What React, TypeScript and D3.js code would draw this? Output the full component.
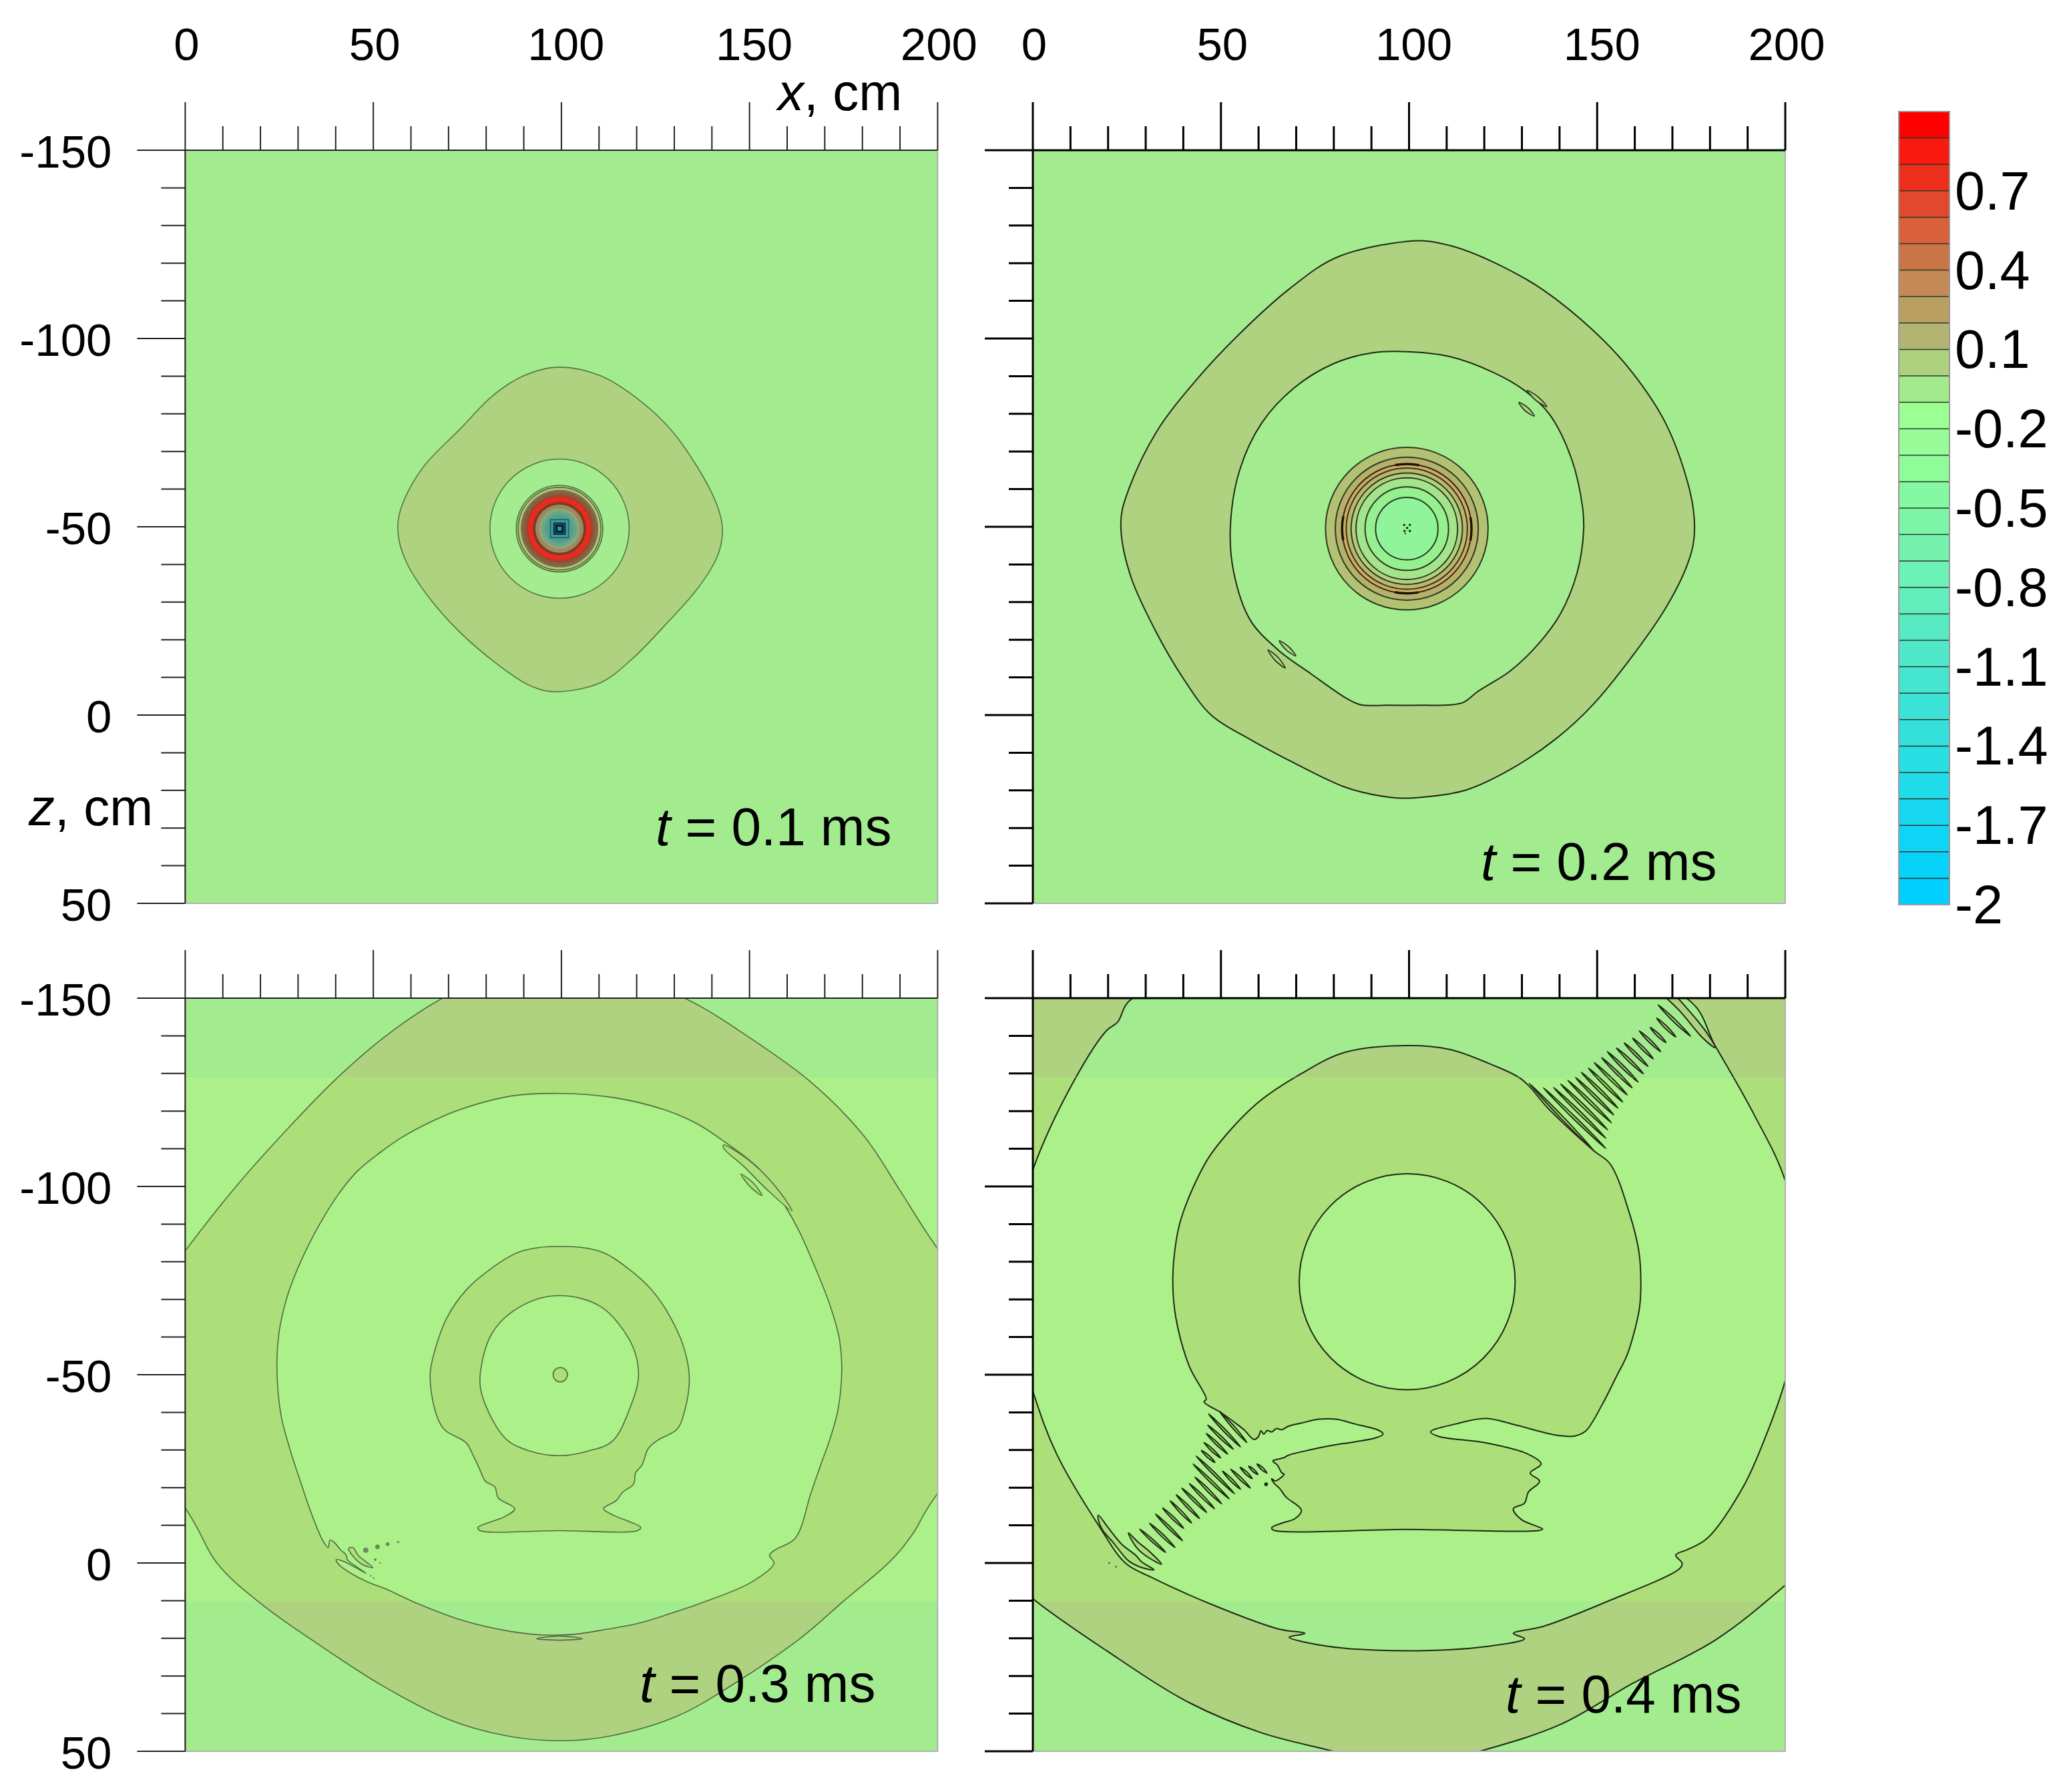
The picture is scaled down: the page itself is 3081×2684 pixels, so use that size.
import React from "react";
import * as d3 from "d3";

type Pt = [number, number];
type Seg = [number, number, number, number];
type Ring = [number, string, string];
type Dot = [number, number, number];

// ---------- axes ----------
const xMajor = [0, 50, 100, 150, 200];
const xMinor = [10, 20, 30, 40, 60, 70, 80, 90, 110, 120, 130, 140, 160, 170, 180, 190];
const zMajor = [-150, -100, -50, 0, 50];
const zMinor = [-140, -130, -120, -110, -90, -80, -70, -60, -40, -30, -20, -10, 10, 20, 30, 40];
const xLabelNudge = [2, 2, 7, 7, 2];

// ---------- colour bar ----------
const legendBands = [
  "#00cfff", "#07d2fa", "#0ed5f5", "#17d8f0", "#20dceb", "#28dfe4", "#33e0dc", "#3ce3d6", "#46e5d0", "#50e8ca",
  "#58ebc3", "#63eebd", "#6cf1b6", "#74f2ae", "#7cf5a8", "#85f8a2", "#8ffc9a", "#98fd98", "#9cff94", "#a3ea8e",
  "#acd27e", "#b3b472", "#b99f62", "#c48a55", "#ca7548", "#d96038", "#e2482b", "#ee2e1c", "#f81a0f", "#ff0000",
];
const legendLevels = [-2, -1.9, -1.8, -1.7, -1.6, -1.5, -1.4, -1.3, -1.2, -1.1, -1, -0.9, -0.8, -0.7, -0.6, -0.5, -0.4, -0.3, -0.2, -0.1, 0, 0.1, 0.2, 0.3, 0.4, 0.5, 0.6, 0.7, 0.8, 0.9, 1];
const legendTicks = [-2, -1.7, -1.4, -1.1, -0.8, -0.5, -0.2, 0.1, 0.4, 0.7];

// ---------- t = 0.1 ms ----------
const p1Outer: Pt[] = [
  [99.5, -92.4], [110.4, -90.1], [120.5, -83.8], [129, -75.9], [135.8, -66.4], [140.9, -56.9], [142.8, -49.4], [141.3, -41.8],
  [135.8, -33.1], [127.3, -23.6], [118.8, -14.9], [110.4, -8.6], [99.5, -6.2], [91.7, -7.8], [83.2, -13.3], [73, -22],
  [64.5, -31.6], [58.6, -41], [56.5, -49.4], [58.1, -56.9], [63.7, -66.4], [73, -75.9], [81.5, -84.6], [90, -90.1],
];
const p1Centre: Pt = [99.5, -49.5];
const p1Rings: Ring[] = [
  [18.5, "#a3ec8f", "#55754a"], [11.5, "#a9d983", "#4f6b40"], [11, "#b0c577", "#4f6b40"], [10.3, "#7c6c48", "none"],
  [9.6, "#8c5a3c", "none"], [8.9, "#a8402c", "none"], [8.3, "#ea2a1c", "none"], [7.1, "#7e3a28", "none"],
  [6.4, "#9b8a60", "none"], [5.4, "#8fa578", "none"], [4.7, "#6aa585", "none"], [3.8, "#4f9f92", "none"],
];
const p1Boxes: Ring[] = [
  [2.4, "#3f9a98", "#1f5f62"], [1.5, "#1b6f7a", "#0d2530"], [1, "#0d2530", "#0d2530"], [0.5, "#1aa0b5", "none"],
];

// ---------- t = 0.2 ms ----------
const p2Outer: Pt[] = [
  [99.5, -125.8], [110.8, -124.7], [122.6, -120.2], [135.8, -112.8], [149.1, -102], [159.4, -90.9], [168.2, -77.5], [174.1, -61.6],
  [175.9, -49.8], [174.1, -40.3], [168.2, -28.4], [159.4, -15.7], [149.1, -3], [138.8, 6.5], [127, 14.4], [115.2, 19.9],
  [103.5, 21.8], [94.6, 21.8], [82.9, 19.1], [69.6, 12.8], [57.8, 6.5], [47.5, 0.1], [40.2, -9.4], [32.8, -22],
  [26.2, -36.3], [23.4, -49.8], [25.5, -60], [32.8, -75.1], [43.1, -88.6], [54.9, -101.2], [68.1, -113.1], [81.4, -121.8],
];
const p2Inner: Pt[] = [
  [99.5, -96.5], [110.8, -95.2], [122.6, -90.9], [130.7, -86.2], [137.3, -79.9], [143.2, -68], [146.1, -55.3], [146.4, -49],
  [144.7, -37.9], [140.2, -26.8], [134.4, -18.9], [127, -11.8], [118.2, -6.2], [114.5, -3.4], [110.8, -2.7], [104, -2.6], [94, -2.6], [87.3, -2.7],
  [83.6, -4.3], [74, -10.9], [65.2, -17.3], [57.8, -25.2], [53.4, -37.9], [52.5, -49.8], [54.9, -64.8], [60.8, -77.5],
  [69.6, -87], [79.9, -93.3], [90.2, -96.2],
];
const p2Centre: Pt = [99.4, -49.5];
const p2Rings: Ring[] = [
  [21.6, "#b3c272", "#2c3a22"], [19, "#b5b06a", "#2c3a22"], [17.2, "#d4a861", "#2c2a18"], [16.1, "#bbb76d", "#2c3a22"],
  [14.8, "#b0d080", "#2c3a22"], [13.5, "#a3e58a", "#2c3a22"], [11.1, "#96f090", "#2c3a22"], [8.3, "#90f59a", "#2c3a22"],
];
const p2Lenses: Seg[] = [
  [131.4, -86.2, 136.6, -81.9], [129.2, -83, 133.3, -79.4], [65.5, -19.7, 69.9, -15.7], [62.5, -17.3, 67.1, -12.5],
];
const p2CentreDots: Dot[] = [[98.7, -50.5, 0.3], [100.2, -50.5, 0.3], [99.5, -49.7, 0.3], [98.8, -48.9, 0.3], [100.2, -48.9, 0.3], [99, -48.2, 0.2]];

// ---------- t = 0.3 ms ----------
const p3Outer: Pt[] = [
  [68.4, -150], [54.3, -140.7], [40.7, -129.1], [27.2, -115.3], [13.6, -100.1], [0, -82.9], [-24, -50], [0, -14.7], [8.5, 0.1],
  [20.4, 11], [35.7, 21.8], [52.6, 32.7], [69.6, 41.4], [84.9, 45.8], [99.7, 47.2], [113.8, 45.8], [130.7, 40.7],
  [146, 32], [163, 20.4], [174.9, 10.2], [186.8, 0.1], [193.5, -7.9], [200, -18.5], [224, -50], [200, -83.4],
  [190.2, -98.6], [180, -113.9], [165.5, -128.4], [146, -142.2], [132.8, -150], [116, -157], [100, -160], [84, -157],
];
const p3RingInner: Pt[] = [
  [99.7, -124.7], [113.8, -123.6], [127.3, -120.4], [135.8, -116.8], [142.6, -112.4], [152.8, -104.4], [158.9, -95.7], [163, -88.5],
  [168.1, -76.9], [171.5, -68.1], [173.9, -59.4], [174.5, -50.7], [173.5, -40.6], [171.5, -33.3], [168.9, -26], [166.4, -18.8],
  [162.1, -6.5], [157, -3.6], [155.3, -2.1], [156.5, 0.1], [150.3, 5.2], [137.5, 10.5], [129, 13.4],
  [120.5, 16], [112, 17.6], [103.6, 18.9], [95.1, 19.1], [86.6, 18.2], [73.9, 15.3], [61.1, 10.5], [53.1, 6.8], [48.4, 5], [44, 2.7], [41, 0.6], [40.1, -0.9],
  [41.6, -0.6], [44.9, 1], [48.1, 2.8], [45.4, 0.9], [43.1, -0.9], [42.8, -2.1], [41.3, -3.5], [39.5, -5.6], [38.5, -6.1],
  [38, -4.1], [36.6, -5.9], [33.6, -13], [30.6, -21.7], [28, -29.7], [25.5, -39.1], [24.4, -50.7], [24.9, -60.9], [27.2, -71], [30.6, -79.8],
  [35.7, -89.9], [40.7, -97.9], [45.8, -104.1], [51.8, -109], [57.7, -113.1], [65.4, -117.2], [73, -120.4], [86.6, -124],
];
const p3Keyhole: Pt[] = [
  [99.7, -84.1], [110.4, -82.7], [118, -78], [124, -72.5], [129, -65.2], [132.5, -57.3], [134, -49.3], [132.8, -40.6], [130.7, -35.5], [125.6, -32.6],
  [123.1, -30.4], [121.4, -26], [119.7, -23.9], [119.2, -21], [116.3, -18.8], [114.6, -16.6], [111.2, -14.4], [113.8, -12.7],
  [121.1, -9.4], [120.2, -8.6], [99.5, -8.6], [78.4, -8.6], [77.8, -9.4], [84.9, -12.3], [87.6, -14.4], [83.2, -17.3], [82.3, -20.2],
  [79.8, -21.7], [78.1, -25.3], [76.7, -28.2], [74.7, -31.9], [68.8, -35.5], [66.4, -40.6], [65.1, -50], [66.6, -57.3], [69.6, -65.2],
  [74.7, -72.5], [81.5, -78.3], [89.1, -82.7],
];
const p3Hole: Pt[] = [
  [99.5, -71], [110.4, -68.1], [118, -59.4], [120.5, -50], [118, -40.6], [113.8, -32.6], [107, -29.7], [99.5, -28.5],
  [91.7, -29.7], [84.9, -33.3], [79.8, -42], [78.4, -50], [81.5, -60.9], [89.1, -68.1],
];
const p3LensA: Pt[] = [[143.1, -111], [149.4, -107.3], [156.2, -100.8], [161.3, -93.5], [154.5, -99.3], [148.6, -105.2], [143.1, -110.2]];
const p3LensB: Pt[] = [[147.7, -103.3], [151.1, -100.8], [153.3, -97.6], [150.3, -99.8]];
const p3LensC: Pt[] = [[93.4, 20.1], [99.5, 19.4], [105.6, 20.1], [99.5, 20.5]];
const p3LensD: Pt[] = [[43.4, -3.8], [44.6, -4.1], [46, -2], [49.9, 1.2], [46.9, 0.3], [44.6, -1.8]];
const p3Dots: Dot[] = [[48, -3.4, 0.7], [51.1, -4.3, 0.6], [53.8, -5, 0.5], [56.6, -5.6, 0.3], [50.5, -0.9, 0.35], [51.8, 0, 0.22], [49.3, 3.4, 0.22], [50.1, 4, 0.22]];
const p3CentreDot: Dot = [99.7, -50, 1.9];

// ---------- t = 0.4 ms ----------
const p4Blob: Pt[] = [
  [0, 9.5], [19.6, 23.3], [41.6, 37.1], [60.8, 45.1], [79.9, 50], [99.5, 55], [118.9, 50], [140.2, 42.9], [159.4, 32],
  [181.5, 20.4], [200, 5.9], [215, -8], [215, -165], [-15, -165], [-15, -4],
];
const p4Field: Pt[] = [
  [26.5, -150], [22.5, -143.6], [19.6, -141.4], [10.7, -127.6], [0, -104.4], [-8, -74], [0, -45.6], [6.3, -29], [17.4, -10.1],
  [24.7, 0.1], [31.3, 3.7], [47.5, 11], [65.2, 17.5], [72.3, 18.7], [68.1, 19.7], [78.4, 22.1], [99.5, 23.3], [121.1, 22.1],
  [130.7, 20.1], [127.7, 18.7], [135.8, 16.8], [152, 10.5], [171.9, 1.5], [172.6, 0.1], [170.9, -2.1], [174.1, -3.6],
  [179.2, -6.5], [188.8, -20.2], [194.7, -33.4], [200, -48.5], [205, -74], [200, -101.5], [191.8, -118.9], [181.5, -137.1], [173.7, -150], [99.5, -165],
];
const p4Core: Pt[] = [
  [45.5, -42.8], [50.2, -39.8], [53.8, -37.2], [56.1, -35.4], [58.8, -32.8], [60, -33.6], [60.6, -35.1], [61.4, -34.2], [62.3, -35.2],
  [63.5, -34.8], [64.7, -35.7], [66.2, -35.4], [67.9, -36.3], [71.5, -37.2], [76.2, -38.2], [80.4, -38.2], [85.7, -36.9],
  [92.2, -35.1], [93.1, -34.2], [91, -33.2], [85.7, -32.2], [79.8, -31.3], [73.9, -30.1], [67.9, -28.6], [66.8, -28], [65.3, -27.6],
  [63.8, -27.1], [65, -26], [66.2, -23.9], [66.8, -23.6], [65.6, -22.4], [64.4, -21.8], [63.5, -22.4], [64.1, -21.2], [65.6, -19.8],
  [67.4, -17.4], [70.3, -15.3], [71.4, -13.9], [69.7, -11.8], [66.2, -10.6], [63.5, -9.4], [63.8, -8.8], [99.5, -8.9], [134.4, -8.6],
  [135.5, -9], [129.9, -11.5], [127.7, -14.4], [130.7, -15.9], [131.7, -18.8], [134.7, -21.7], [132.2, -23.9], [135.1, -26.3],
  [131.4, -29], [120.4, -31.9], [107.9, -33.6], [105.7, -34.8], [112.3, -36.9], [120.4, -38.4], [128.5, -36.6], [138.8, -34],
  [143.9, -33.7], [146.9, -35], [151.3, -42], [155, -49.3], [157.9, -55.1], [160.1, -62.3], [161.3, -68.1], [161.6, -75.4], [161.1, -82.7], [158.6, -92.8], [153.5, -105.9], [149.1, -109.5],
  [137.3, -120.4], [130, -128.4], [121.1, -132.7], [110.8, -136.4], [99.5, -137.4], [82.9, -135.6], [71.1, -129.8], [59.3, -121.8],
  [47.5, -108.8], [43.1, -100.8], [39.4, -91.4], [38.1, -85.6], [37.2, -75.4], [38, -65.2], [41.6, -52.2], [46.1, -43.5],
];
const p4Hole: Dot = [99.5, -74.7, 28.7];
const p4UpperStripes: Seg[] = [
  [131.9, -127.4, 149.3, -109.3], [135.7, -126.2, 152.3, -110.1], [138.4, -126.3, 152.3, -112.8], [140.3, -127.2, 152.8, -115],
  [142.2, -128.2, 153.8, -116.9], [144.2, -129, 154.4, -119], [145.8, -130.3, 155.5, -120.8], [147.7, -131.4, 156.8, -122.4],
  [149.2, -132.9, 158, -124.3], [151.2, -134.2, 159.3, -126.2], [152.7, -135.8, 160.9, -127.7], [155.1, -136.8, 162.3, -129.9],
  [157.2, -138.1, 163.5, -131.9], [159.4, -139.4, 164.9, -133.9], [161.2, -141.3, 166.9, -135.8], [164.1, -142.2, 168.3, -138.2],
  [165.8, -144.7, 170.9, -139.7], [166.2, -148.2, 174.8, -139.9],
];
const p4CornerLens: Pt[] = [[169, -152], [175, -146], [180, -139.5], [181.3, -136.9], [178, -139.5], [172.5, -146], [167, -152]];
const p4LowerStripes: Seg[] = [
  [28.4, -9, 35.3, -2.8], [31, -10.6, 37.8, -4.1], [32.6, -13, 39.8, -5.9], [34.5, -14.6, 40.1, -9.2], [36.5, -16.5, 42.2, -10.6],
  [38.1, -18.1, 44.3, -11.8], [39.6, -19.9, 46.2, -13.4], [41.6, -21.1, 48.3, -14.4], [43.1, -22.8, 50.2, -15.7],
  [42.6, -26.3, 52.2, -17], [43.4, -28.4, 53.6, -18.4], [50.4, -24.4, 55.2, -19.6], [52.6, -24.9, 57.8, -19.9], [55.1, -25.4, 58.3, -22.4],
  [57.4, -25.7, 59.8, -23.5], [59.6, -26.3, 62.2, -23.9], [44.8, -29.9, 48.4, -26.7], [45.5, -32, 49.9, -27.9], [46.1, -34.4, 51.8, -28.9],
  [46.5, -36.6, 53.3, -30.2], [46.7, -39.6, 55.2, -30.8], [49.6, -40.3, 56.9, -32],
];
const p4WideLens: Pt[] = [[25.4, -8], [28, -5.5], [30.5, -3.5], [34.2, 0.3], [30.5, -1.6], [27.5, -4.2]];
const p4BigLens: Pt[] = [
  [17.4, -12.7], [20, -9.4], [23.6, -5], [27.4, -2], [28.9, -0.3], [32.2, 1.8], [28.9, 1.2], [25.4, -0.6], [23.6, -2.6], [21.2, -5.6], [18.5, -8.8], [17.4, -11.5],
];
const p4Dots: Dot[] = [[20.3, 0, 0.2], [22.1, 1, 0.2], [62, -20.9, 0.5]];

// ---------- palette and band limits ----------
const stripBg = "#a2eb8e";
const stripRing = "#aed27f";
const midBg = "#abf088";
const midRing = "#acde7a";
const bandTop = -129;
const bandBottom = 10.3;

// ---------- layout ----------
const W = 1127;
const H = 1128;
const colX = [277.4, 1547];
const rowY = [225, 1495];
const sans = "'Liberation Sans', Arial, sans-serif";

const sx = d3.scaleLinear().domain([0, 200]).range([0, W]);
const sz = d3.scaleLinear().domain([-150, 50]).range([0, H]);
const closed = d3
  .line<Pt>()
  .curve(d3.curveCatmullRomClosed.alpha(0.5))
  .x((d) => sx(d[0]))
  .y((d) => sz(d[1]));
const smooth = d3
  .line<Pt>()
  .curve(d3.curveCatmullRomClosed.alpha(0))
  .x((d) => sx(d[0]))
  .y((d) => sz(d[1]));
const lensPath = (s: Seg, w: number) => {
  const [x1, z1, x2, z2] = s;
  const len = Math.hypot(x2 - x1, z2 - z1);
  const nx = (-(z2 - z1) / len) * w;
  const nz = ((x2 - x1) / len) * w;
  const mx = (x1 + x2) / 2;
  const mz = (z1 + z2) / 2;
  return closed([[x1, z1], [mx + nx, mz + nz], [x2, z2], [mx - nx, mz - nz]] as Pt[]) as string;
};
const rad = (r: number) => sx(r) - sx(0);

function Axes({ top, left, stroke, sw }: { top: boolean; left: boolean; stroke: string; sw: number }) {
  return (
    <g stroke={stroke} strokeWidth={sw} fill="none">
      {xMajor.map((v) => <line key={v} x1={sx(v)} x2={sx(v)} y1={0} y2={-72} />)}
      {xMinor.map((v) => <line key={v} x1={sx(v)} x2={sx(v)} y1={0} y2={-36} />)}
      {zMajor.map((v) => <line key={v} x1={0} x2={-72} y1={sz(v)} y2={sz(v)} />)}
      {zMinor.map((v) => <line key={v} x1={0} x2={-36} y1={sz(v)} y2={sz(v)} />)}
      <g stroke="none" fill="#000" fontFamily={sans} fontSize={69}>
        {top && xMajor.map((v, i) => (
          <text key={v} x={sx(v) + xLabelNudge[i]} y={-135} textAnchor="middle">{v}</text>
        ))}
        {left && zMajor.map((v) => (
          <text key={v} x={-110} y={sz(v) + 26} textAnchor="end">{v}</text>
        ))}
      </g>
    </g>
  );
}

function Frame() {
  return <path d={`M0,0H${W}V${H}H0Z`} fill="none" stroke="#b0b0b0" strokeWidth={2} />;
}

function AxisLines({ stroke, sw }: { stroke: string; sw: number }) {
  return <path d={`M0,${H}V0H${W}`} fill="none" stroke={stroke} strokeWidth={sw} />;
}

function Panel1() {
  const line = "#55754a";
  const cx = sx(p1Centre[0]);
  const cy = sz(p1Centre[1]);
  return (
    <g transform={`translate(${colX[0]},${rowY[0]})`}>
      <rect width={W} height={H} fill={stripBg} />
      <path d={smooth(p1Outer) as string} fill={stripRing} stroke={line} strokeWidth={1.6} />
      {p1Rings.map(([r, f, s]) => (
        <circle key={r} cx={cx} cy={cy} r={rad(r)} fill={f} stroke={s} strokeWidth={s === "none" ? 0 : 1.6} />
      ))}
      {p1Boxes.map(([r, f, s]) => (
        <rect key={r} x={cx - rad(r)} y={cy - rad(r)} width={2 * rad(r)} height={2 * rad(r)} fill={f} stroke={s} strokeWidth={s === "none" ? 0 : 1.6} />
      ))}
      <Frame />
      <AxisLines stroke="#222" sw={2} />
      <Axes top left stroke="#222" sw={2} />
    </g>
  );
}

function Panel2() {
  const line = "#1f2a16";
  const cx = sx(p2Centre[0]);
  const cy = sz(p2Centre[1]);
  const quarter = (2 * Math.PI * rad(17.2)) / 4;
  return (
    <g transform={`translate(${colX[1]},${rowY[0]})`}>
      <rect width={W} height={H} fill={stripBg} />
      <path d={smooth(p2Outer) as string} fill={stripRing} stroke={line} strokeWidth={2} />
      <path d={closed(p2Inner) as string} fill={stripBg} stroke={line} strokeWidth={2} />
      {p2Lenses.map((s, i) => <path key={i} d={lensPath(s, 0.55)} fill={stripRing} stroke={line} strokeWidth={1.6} />)}
      {p2Rings.map(([r, f, s]) => (
        <circle key={r} cx={cx} cy={cy} r={rad(r)} fill={f} stroke={s} strokeWidth={2} />
      ))}
      <circle cx={cx} cy={cy} r={rad(17.2)} fill="none" stroke="#1a1408" strokeWidth={3.5} strokeDasharray={`36 ${quarter - 36}`} strokeDashoffset={18} />
      {p2CentreDots.map(([x, z, r], i) => <circle key={i} cx={sx(x)} cy={sz(z)} r={rad(r)} fill="#1a2414" />)}
      <Frame />
      <AxisLines stroke="#000" sw={3} />
      <Axes top={true} left={false} stroke="#000" sw={3} />
    </g>
  );
}

function Scene3({ bg, ring, line }: { bg: string; ring: string; line: string }) {
  const sw = 1.6;
  return (
    <g>
      <rect width={W} height={H} fill={bg} />
      <path d={smooth(p3Outer) as string} fill={ring} stroke={line} strokeWidth={sw} />
      <path d={closed(p3RingInner) as string} fill={bg} stroke={line} strokeWidth={sw} />
      <path d={closed(p3Keyhole) as string} fill={ring} stroke={line} strokeWidth={sw} />
      <path d={smooth(p3Hole) as string} fill={bg} stroke={line} strokeWidth={sw} />
      <circle cx={sx(p3CentreDot[0])} cy={sz(p3CentreDot[1])} r={rad(p3CentreDot[2])} fill={ring} stroke={line} strokeWidth={sw} />
      {[p3LensA, p3LensB, p3LensC, p3LensD].map((p, i) => (
        <path key={i} d={closed(p) as string} fill={ring} stroke={line} strokeWidth={sw} />
      ))}
      {p3Dots.map(([x, z, r], i) => (
        <circle key={i} cx={sx(x)} cy={sz(z)} r={rad(r)} fill="#6a8a58" stroke="none" />
      ))}
    </g>
  );
}

function Scene4({ bg, ring, line }: { bg: string; ring: string; line: string }) {
  const sw = 2;
  return (
    <g>
      <rect width={W} height={H} fill={bg} />
      <path d={closed(p4Blob) as string} fill={ring} stroke={line} strokeWidth={sw} />
      <path d={closed(p4Field) as string} fill={bg} stroke={line} strokeWidth={sw} />
      <path d={closed(p4Core) as string} fill={ring} stroke={line} strokeWidth={sw} />
      <circle cx={sx(p4Hole[0])} cy={sz(p4Hole[1])} r={rad(p4Hole[2])} fill={bg} stroke={line} strokeWidth={sw} />
      {p4UpperStripes.map((s, i) => <path key={i} d={lensPath(s, 0.35)} fill={ring} stroke={line} strokeWidth={sw} />)}
      {p4LowerStripes.map((s, i) => <path key={i} d={lensPath(s, 0.32)} fill={ring} stroke={line} strokeWidth={sw} />)}
      {[p4CornerLens, p4WideLens, p4BigLens].map((p, i) => (
        <path key={i} d={closed(p) as string} fill={ring} stroke={line} strokeWidth={sw} />
      ))}
      {p4Dots.map(([x, z, r], i) => <circle key={i} cx={sx(x)} cy={sz(z)} r={rad(r)} fill={line} />)}
    </g>
  );
}

function Banded({ id, render }: { id: string; render: (bg: string, ring: string) => React.ReactNode }) {
  const yA = sz(bandTop);
  const yB = sz(bandBottom);
  return (
    <g>
      <clipPath id={`${id}-all`}><rect width={W} height={H} /></clipPath>
      <clipPath id={`${id}-strip`}>
        <rect width={W} height={yA} />
        <rect y={yB} width={W} height={H - yB} />
      </clipPath>
      <g clipPath={`url(#${id}-all)`}>{render(midBg, midRing)}</g>
      <g clipPath={`url(#${id}-strip)`}>{render(stripBg, stripRing)}</g>
    </g>
  );
}

function Panel3() {
  return (
    <g transform={`translate(${colX[0]},${rowY[1]})`}>
      <Banded id="p3" render={(bg, ring) => <Scene3 bg={bg} ring={ring} line="#4f6b45" />} />
      <Frame />
      <AxisLines stroke="#222" sw={2} />
      <Axes top={false} left stroke="#222" sw={2} />
    </g>
  );
}

function Panel4() {
  return (
    <g transform={`translate(${colX[1]},${rowY[1]})`}>
      <Banded id="p4" render={(bg, ring) => <Scene4 bg={bg} ring={ring} line="#1f2a16" />} />
      <Frame />
      <AxisLines stroke="#000" sw={3} />
      <Axes top={false} left={false} stroke="#000" sw={3} />
    </g>
  );
}

function Legend() {
  const y = d3.scaleLinear().domain([-2, 1]).range([1355, 167]);
  const x0 = 2844;
  const w = 76;
  return (
    <g>
      {legendBands.map((c, i) => (
        <rect key={i} x={x0} y={y(legendLevels[i + 1])} width={w} height={y(legendLevels[i]) - y(legendLevels[i + 1]) + 0.5} fill={c} />
      ))}
      {legendLevels.slice(1, -1).map((v) => (
        <line key={v} x1={x0} x2={x0 + w} y1={y(v)} y2={y(v)} stroke="#2b3a2a" strokeWidth={1.5} />
      ))}
      <rect x={x0} y={167} width={w} height={1188} fill="none" stroke="#9a9a9a" strokeWidth={2} />
      {legendTicks.map((v) => (
        <text key={v} x={2928} y={y(v) + 28} fontFamily={sans} fontSize={81} fill="#000">{v}</text>
      ))}
    </g>
  );
}

function TLabel({ x, y, value }: { x: number; y: number; value: string }) {
  return (
    <text x={x} y={y} fontFamily={sans} fontSize={80} fill="#000">
      <tspan fontStyle="italic">t</tspan>
      {` = ${value} ms`}
    </text>
  );
}

export default function App() {
  return (
    <svg
      width={3081}
      height={2684}
      viewBox="0 0 3081 2684"
      style={{ position: "absolute", left: 0, top: 0, display: "block", background: "#fff" }}
    >
      <Panel1 />
      <Panel2 />
      <Panel3 />
      <Panel4 />
      <Legend />
      <text x={1165} y={165} fontFamily={sans} fontSize={78} fill="#000">
        <tspan fontStyle="italic">x</tspan>, cm
      </text>
      <text x={43} y={1236} fontFamily={sans} fontSize={78} fill="#000">
        <tspan fontStyle="italic">z</tspan>, cm
      </text>
      <TLabel x={982} y={1266} value="0.1" />
      <TLabel x={2218} y={1318} value="0.2" />
      <TLabel x={958} y={2549} value="0.3" />
      <TLabel x={2255} y={2565} value="0.4" />
    </svg>
  );
}
